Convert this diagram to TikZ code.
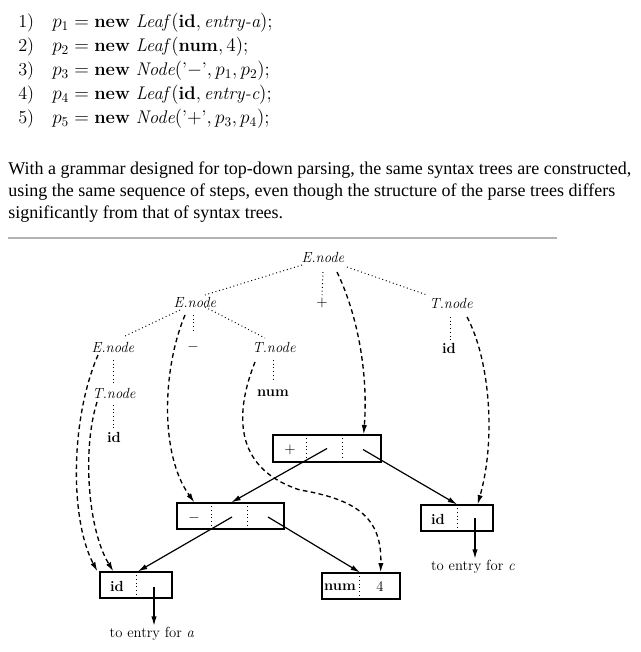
\documentclass[tikz,border=0pt]{standalone}
\usepackage{fontspec}
\newfontfamily\parfont{Liberation Serif}
\usetikzlibrary{arrows.meta,calc}
\tikzset{
  lbl/.style={inner sep=1pt, font=\fontsize{11}{13}\selectfont},
  codeln/.style={anchor=base west, inner sep=0pt, font=\fontsize{13.7}{16}\selectfont},
  parln/.style={anchor=base west, inner sep=0pt, font=\parfont\fontsize{13.5}{16}\selectfont},
  boxn/.style={draw, line width=0.9pt, inner sep=0pt, minimum height=19.5pt},
  dotedge/.style={line width=0.75pt, dash pattern=on 0.7pt off 2.1pt},
  dashedge/.style={line width=1pt, dash pattern=on 3.5pt off 2.5pt, -{Latex[length=7pt,width=4pt]}},
  solidarr/.style={line width=0.9pt, -{Latex[length=7pt,width=4pt]}},
}
\begin{document}
\begin{tikzpicture}[x=0.75pt,y=-0.75pt]
\useasboundingbox (0,0) rectangle (640,652);
% code lines
\node[codeln] (n1) at (18,28) {1)};
\node[codeln] (n2) at (18,52) {2)};
\node[codeln] (n3) at (18,76) {3)};
\node[codeln] (n4) at (18,100) {4)};
\node[codeln] (n5) at (18,124) {5)};
\node[codeln] (c1) at (52,28) {$p_1 = \textbf{new}\ \textit{Leaf}\,(\textbf{id}, \textit{entry-a});$};
\node[codeln] (c2) at (52,52) {$p_2 = \textbf{new}\ \textit{Leaf}\,(\textbf{num}, 4);$};
\node[codeln] (c3) at (52,76) {$p_3 = \textbf{new}\ \textit{Node}(\mbox{'}{-}\mbox{'}, p_1, p_2);$};
\node[codeln] (c4) at (52,100) {$p_4 = \textbf{new}\ \textit{Leaf}\,(\textbf{id}, \textit{entry-c});$};
\node[codeln] (c5) at (52,124) {$p_5 = \textbf{new}\ \textit{Node}(\mbox{'}{+}\mbox{'}, p_3, p_4);$};
% paragraph
\node[parln] (l1) at (8,175) {With a grammar designed for top-down parsing, the same syntax trees are constructed,};
\node[parln] (l2) at (8,197) {using the same sequence of steps, even though the structure of the parse trees differs};
\node[parln] (l3) at (8,219) {significantly from that of syntax trees.};
\coordinate (r1) at (8,238);
\coordinate (r2) at (557,238);
\draw[black!30, line width=1.1pt] (r1) -- (r2);
% parse tree labels
\node[lbl] (topE) at (323,257) {\textit{E.node}};
\node[lbl] (midE) at (195,302) {\textit{E.node}};
\node[lbl] (plus) at (322,303) {$+$};
\node[lbl] (rightT) at (451,303) {\textit{T.node}};
\node[lbl] (leftE) at (113,347) {\textit{E.node}};
\node[lbl] (minus) at (193,347) {$-$};
\node[lbl] (midT) at (274,347) {\textit{T.node}};
\node[lbl] (idR) at (449,348) {\textbf{id}};
\node[lbl] (leftT) at (114,393) {\textit{T.node}};
\node[lbl] (numL) at (273,393) {\textbf{num}};
\node[lbl] (idL) at (114,437) {\textbf{id}};
% dotted tree edges
\draw[dotedge] ($(topE)+(-21,8)$) -- ($(midE)+(10,-7)$);
\draw[dotedge] ($(topE)+(0,15)$) -- ($(plus)+(0,-8)$);
\draw[dotedge] ($(topE)+(24,10)$) -- ($(rightT)+(-24,-8)$);
\draw[dotedge] ($(midE)+(-15,8)$) -- ($(leftE)+(10,-10)$);
\draw[dotedge] ($(midE)+(-2,13)$) -- ($(minus)+(0,-14)$);
\draw[dotedge] ($(midE)+(10,5)$) -- ($(midT)+(-9,-9)$);
\draw[dotedge] ($(leftE)+(0,13)$) -- ($(leftT)+(-1,-10)$);
\draw[dotedge] ($(leftT)+(-1,12)$) -- ($(idL)+(-1,-7)$);
\draw[dotedge] ($(midT)+(-1,13)$) -- ($(numL)+(0,-13)$);
\draw[dotedge] ($(rightT)+(-1,14)$) -- ($(idR)+(1,-8)$);
% syntax tree boxes
\node[boxn, minimum width=81pt, minimum height=20.25pt] (pbox) at (327,448.5) {};
\node[boxn, minimum width=80.25pt] (mbox) at (230.5,516) {};
\node[boxn, minimum width=54pt] (idcbox) at (457,518) {};
\node[boxn, minimum width=54pt] (idabox) at (136,585) {};
\node[boxn, minimum width=58.5pt] (numbox) at (361,586) {};
\draw[dotedge] ($(pbox.north west)+(34,0)$) -- ($(pbox.south west)+(34,0)$);
\draw[dotedge] ($(pbox.north west)+(70,0)$) -- ($(pbox.south west)+(70,0)$);
\draw[dotedge] ($(mbox.north west)+(35,0)$) -- ($(mbox.south west)+(35,0)$);
\draw[dotedge] ($(mbox.north west)+(71,0)$) -- ($(mbox.south west)+(71,0)$);
\draw[dotedge] (idcbox.north) -- (idcbox.south);
\draw[dotedge] (idabox.north) -- (idabox.south);
\draw[dotedge] ($(numbox.north)+(-2,0)$) -- ($(numbox.south)+(-2,0)$);
\node[lbl] (pplus) at (290,450) {$+$};
\node[lbl] (mminus) at (194,518) {$-$};
\node[lbl] (idc) at (438,519) {\textbf{id}};
\node[lbl] (ida) at (117,586) {\textbf{id}};
\node[lbl] (numt) at (340,587) {\textbf{num}};
\node[lbl] (four) at (380,587) {4};
\node[lbl] (enta) at (152,634) {to entry for \textit{a}};
\node[lbl] (entc) at (473,567) {to entry for \textit{c}};
% solid pointers
\draw[solidarr] ($(pbox.center)+(0,0)$) -- ($(mbox.north west)+(55,0)$);
\draw[solidarr] ($(pbox.center)+(36,1)$) -- (idcbox.north);
\draw[solidarr] ($(mbox.center)+(1.5,1)$) -- ($(idabox.north)+(2,0)$);
\draw[solidarr] ($(mbox.center)+(37.5,1)$) -- ($(numbox.north)+(-1,0)$);
\coordinate (pa) at ($(idabox.center)+(18,2)$);
\draw[solidarr] (pa) -- (pa |- enta.north);
\coordinate (pc) at ($(idcbox.center)+(18,0)$);
\draw[solidarr] (pc) -- (pc |- entc.north);
% dashed attribute links
\draw[dashedge] ($(topE)+(14,15)$) .. controls (360,320) and (368,380) .. ($(pbox.north east)+(-18,0)$);
\draw[dashedge] ($(rightT)+(16,14)$) .. controls (490,360) and (496,440) .. ($(idcbox.north east)+(-16,0)$);
\draw[dashedge] ($(midE)+(-10,13)$) .. controls (162,370) and (160,455) .. ($(mbox.north west)+(18,0)$);
\draw[dashedge] ($(midT)+(-19,15)$) .. controls (232,420) and (238,470) .. (300,490) .. controls (360,500) and (382,520) .. ($(numbox.north east)+(-20,0)$);
\draw[dashedge] ($(leftE)+(-15,8)$) .. controls (70,420) and (70,520) .. ($(idabox.north west)+(-2,0)$);
\draw[dashedge] ($(leftT)+(-17,9)$) .. controls (82,450) and (88,530) .. ($(idabox.north west)+(14,0)$);
\end{tikzpicture}
\end{document}
